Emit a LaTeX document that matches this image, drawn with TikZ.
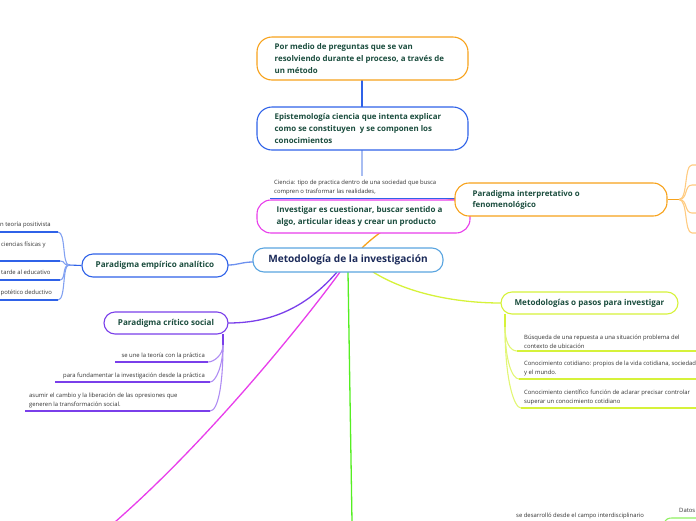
\documentclass[tikz,border=0pt]{standalone}
\usepackage{fontspec}
\setmainfont{Open Sans}
\definecolor{tgreen}{HTML}{1B4D3E}
\definecolor{tnavy}{HTML}{1C2B5A}
\definecolor{corange}{HTML}{F7A21B}
\definecolor{lorange}{HTML}{FFCB80}
\definecolor{cblue}{HTML}{2F62E8}
\definecolor{lblue}{HTML}{A8BDF2}
\definecolor{cmag}{HTML}{E83EEB}
\definecolor{cmain}{HTML}{5AA5E0}
\definecolor{cpurp}{HTML}{7A3FEA}
\definecolor{cyel}{HTML}{D6F23A}
\definecolor{cgreen}{HTML}{55EE22}
\definecolor{lgreen}{HTML}{8EF060}
\definecolor{leaftxt}{HTML}{333333}
\tikzset{
  box/.style={draw, line width=1.1pt, fill=white, inner sep=0pt},
  ttl/.style={font=\bfseries\fontsize{7.9}{12}\selectfont, text=tgreen, align=left, inner sep=0pt, anchor=west},
  leaf/.style={font=\fontsize{5.9}{9}\selectfont, text=leaftxt, align=left, inner sep=0pt},
  conn/.style={line width=1.3pt},
  br/.style={line width=1.1pt},
}
\begin{document}
\begin{tikzpicture}[x=1pt,y=-1pt]
\useasboundingbox (0,0) rectangle (696,520);
\clip (0,0) rectangle (696,520);

% ---------- connectors from main node ----------
\coordinate (mOr) at (362,248);
\coordinate (mPu) at (337,272);
\coordinate (mMa) at (340,272);
\coordinate (mGr) at (348,272);
\coordinate (mYe) at (373,272);
\coordinate (bMa) at (115,522);
\coordinate (bGr) at (352,522);

\draw[conn, corange] (mOr) .. controls (385,225) and (430,200) .. (455,199.5);
\draw[conn, cpurp] (mPu) .. controls (300,315) and (260,323) .. (228,323);
\draw[conn, cmag] (mMa) .. controls (320,300) and (220,430) .. (bMa);
\draw[conn, cgreen] (mGr) -- (bGr);
\draw[conn, cyel] (mYe) .. controls (410,295) and (460,303) .. (501,303);
\draw[conn, cblue!70] (253,262) .. controls (242,262) and (238,265) .. (228,265);

% top chain
\draw[conn, cblue] (362,80) -- (362,107);
\draw[conn, lblue] (362,150) -- (362,176);

% ---------- boxes with several lines ----------
\node[box, draw=corange, rounded corners=15pt, minimum width=211pt, minimum height=43pt] (top) at (362.5,58.5) {};
\node[ttl] (topt) at ([xshift=18pt]top.west)
  {Por medio de preguntas que se van\\resolviendo durante el proceso, a través de\\un método};

\node[box, draw=cblue, rounded corners=15pt, minimum width=211pt, minimum height=43pt] (epis) at (362.5,128.5) {};
\node[ttl] (epist) at ([xshift=18pt]epis.west)
  {Epistemología ciencia que intenta explicar\\como se constituyen\ \ y se componen los\\conocimientos};

% Ciencia leaf
\node[leaf, anchor=south west] (cien) at (274,195.5)
  {Ciencia: tipo de practica dentro de una sociedad que busca\\compren o trasformar las realidades,};
\draw[br, cblue] (270,198.5) -- (455,198.5);

\node[box, draw=cmag, rounded corners=14pt, minimum width=213pt, minimum height=33pt] (inv) at (363.5,216.5) {};
\node[ttl, font=\bfseries\fontsize{8}{11.5}\selectfont] (invt) at ([xshift=20pt]inv.west)
  {Investigar es cuestionar, buscar sentido a\\algo, articular ideas y crear un producto};

\node[box, draw=corange, rounded corners=14pt, minimum width=212pt, minimum height=33pt] (interp) at (561,199.5) {};
\node[ttl, font=\bfseries\fontsize{7.9}{11}\selectfont] (interpt) at ([xshift=18pt]interp.west)
  {Paradigma interpretativo o\\fenomenológico};

% ---------- single line boxes ----------
\node[box, draw=cmain, rounded corners=11pt, minimum width=190pt, minimum height=24pt,
      font=\bfseries\fontsize{10.1}{12}\selectfont, text=tnavy] (main) at (348,260)
  {Metodología de la investigación};

\node[box, draw=cblue, rounded corners=11pt, minimum width=146pt, minimum height=23pt,
      font=\bfseries\fontsize{8.1}{10}\selectfont, text=tgreen] (emp) at (155,265.5)
  {Paradigma empírico analítico};

\node[box, draw=cpurp, rounded corners=11pt, minimum width=124pt, minimum height=22pt,
      font=\bfseries\fontsize{8.1}{10}\selectfont, text=tgreen] (crit) at (166,323)
  {Paradigma crítico social};

\node[box, draw=cyel, rounded corners=11pt, minimum width=177pt, minimum height=22pt,
      font=\bfseries\fontsize{8.1}{10}\selectfont, text=tgreen] (metp) at (589.5,303)
  {Metodologías o pasos para investigar};

% ---------- interpretativo branches ----------
\coordinate (iS) at (679,199.5);
\draw[br, corange] (interp.east) -- (iS);
\foreach \yy in {165,185,213,233}{
  \draw[br, lorange] (iS) .. controls (688,199.5) and (684,\yy) .. (692,\yy) -- (697,\yy);
}

% ---------- empirico branches ----------
\coordinate (eS) at (69,265);
\draw[br, cblue] (emp.west) -- (eS);
\foreach \yy/\xe in {232/58,261/60,280/60,300/58}{
  \draw[br, cblue!60] (eS) .. controls (62,265) and (66,\yy) .. (\xe,\yy);
  \draw[br, cblue] (\xe,\yy) -- (-2,\yy);
}
\node[leaf, anchor=west] (e1) at (0,225) {n teoría positivista};
\node[leaf, anchor=west] (e2) at (1,245) {ciencias físicas y};
\node[leaf, anchor=west] (e3) at (1,272) {tarde al educativo};
\node[leaf, anchor=west] (e4) at (0.5,293) {potético deductivo};

% ---------- critico branches ----------
\coordinate (cS) at (223,345);
\draw[br, cpurp] (223,334) -- (cS);
\draw[br, cpurp!60] (cS) .. controls (223,355) and (214,362) .. (208,362);
\draw[br, cpurp!60] (cS) .. controls (223,365) and (216,382) .. (210,382);
\draw[br, cpurp!60] (cS) .. controls (223,385) and (218,411) .. (210,411);
\draw[br, cpurp] (208,362) -- (115,362);
\draw[br, cpurp] (210,382) -- (55,382);
\draw[br, cpurp] (210,411) -- (25,411);
\node[leaf, anchor=east] (c1) at (205,355.5) {se une la teoría con la práctica};
\node[leaf, anchor=east] (c2) at (205,376) {para fundamentar la investigación desde la práctica};
\node[leaf, anchor=south west] (c3) at (29,408)
  {asumir el cambio y la liberación de las opresiones que\\generen la transformación social.};

% ---------- metodologias branches ----------
\coordinate (mS) at (505,327);
\draw[br, cyel] (505,314) -- (mS);
\draw[br, cyel!70] (mS) .. controls (505,342) and (510,351) .. (517,351);
\draw[br, cyel!70] (mS) .. controls (505,360) and (512,379) .. (519,379);
\draw[br, cyel!70] (mS) .. controls (505,380) and (514,408) .. (521,408);
\draw[br, cyel] (517,351) -- (697,351);
\draw[br, cyel] (519,379) -- (697,379);
\draw[br, cyel] (521,408) -- (697,408);
\node[leaf, anchor=south west] (m1) at (524,348.5)
  {Búsqueda de una repuesta a una situación problema del\\contexto de ubicación};
\node[leaf, anchor=south west] (m2) at (524,376.5)
  {Conocimiento cotidiano: propios de la vida cotidiana, sociedad\\y el mundo.};
\node[leaf, anchor=south west] (m3) at (524,405.5)
  {Conocimiento científico función de aclarar precisar controlar\\superar un conocimiento cotidiano};

% ---------- bottom right ----------
\node[leaf, anchor=west] (datos) at (679,510) {Datos};
\draw[br, lgreen] (664,523) .. controls (666,519) and (668,518) .. (672,518) -- (697,518);
\node[leaf, anchor=west] (desa) at (516,516) {se desarrolló desde el campo interdisciplinario};
\end{tikzpicture}
\end{document}
